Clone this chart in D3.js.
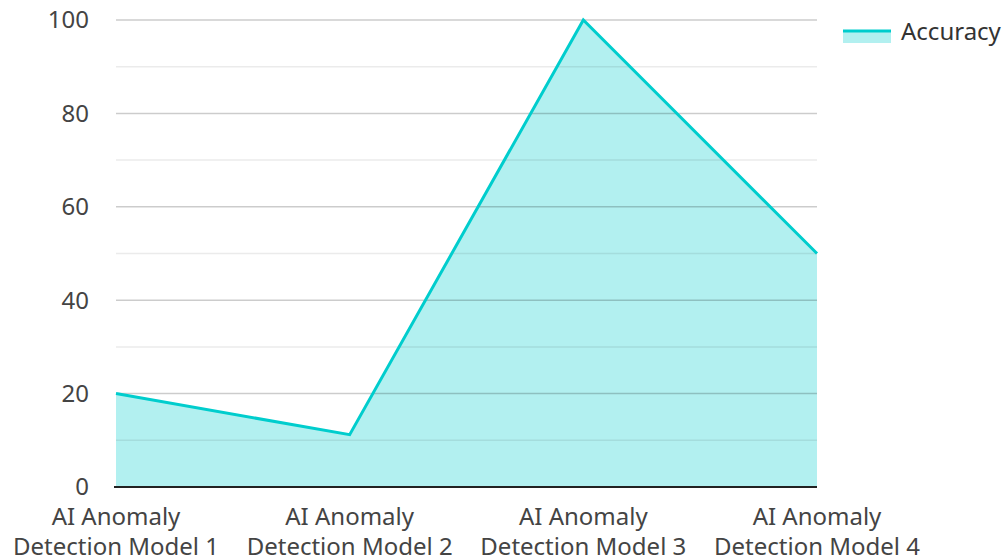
<!DOCTYPE html>
<html><head><meta charset="utf-8">
<script src="https://cdn.jsdelivr.net/npm/d3@7"></script>
<style>body{margin:0;background:#fff}svg{display:block;font-family:"Noto Sans","Open Sans",sans-serif}</style>
</head><body><svg id="c" width="1007" height="560"></svg>
<script>
const categories = ["AI Anomaly Detection Model 1","AI Anomaly Detection Model 2","AI Anomaly Detection Model 3","AI Anomaly Detection Model 4"];
const accuracy = [20, 11.2, 100, 50];
const yTicks = [0, 20, 40, 60, 80, 100];
const yMinor = [10, 30, 50, 70, 90];
const seriesName = "Accuracy";

const svg = d3.select("#c");
const L = 116, R = 817, T = 20, B = 487;
const x = d3.scalePoint().domain(categories).range([L, R]);
const y = d3.scaleLinear().domain([0, 100]).range([B, T]);
const lineCol = "#00cdcd", fillCol = "rgba(0,205,205,0.30)";
const FS = 24;

// area fill
svg.append("path").datum(accuracy)
  .attr("d", d3.area().x((d,i)=>x(categories[i])).y0(y(0)).y1(d=>y(d)))
  .attr("fill", fillCol);

// grid
svg.append("g").selectAll("line").data(yMinor).join("line")
  .attr("x1", L).attr("x2", R).attr("y1", d=>y(d)).attr("y2", d=>y(d))
  .attr("stroke", "rgba(0,0,0,0.08)").attr("stroke-width", 1.5);
svg.append("g").selectAll("line").data(yTicks.filter(d=>d>0)).join("line")
  .attr("x1", L).attr("x2", R).attr("y1", d=>y(d)).attr("y2", d=>y(d))
  .attr("stroke", "rgba(0,0,0,0.2)").attr("stroke-width", 1.5);

// y labels
svg.append("g").selectAll("text").data(yTicks).join("text")
  .attr("x", 89).attr("y", d=>y(d)).attr("dy", "0.35em")
  .attr("text-anchor", "end").attr("font-size", FS).attr("fill", "#444")
  .text(d=>d);

// baseline
svg.append("line").attr("x1", L-2).attr("x2", R).attr("y1", B).attr("y2", B)
  .attr("stroke", "#222").attr("stroke-width", 2);

// line
svg.append("path").datum(accuracy)
  .attr("d", d3.line().x((d,i)=>x(categories[i])).y(d=>y(d)))
  .attr("fill", "none").attr("stroke", lineCol).attr("stroke-width", 3);

// x labels
const xl = svg.append("g").selectAll("text").data(categories).join("text")
  .attr("text-anchor", "middle").attr("font-size", FS).attr("fill", "#444");
xl.each(function(d){
  const t = d3.select(this);
  const words = d.split(" ");
  t.append("tspan").attr("x", x(d)).attr("y", 525).text(words.slice(0,2).join(" "));
  t.append("tspan").attr("x", x(d)).attr("y", 555).text(words.slice(2).join(" "));
});

// legend
svg.append("rect").attr("x", 843).attr("y", 31).attr("width", 48).attr("height", 12).attr("fill", fillCol);
svg.append("line").attr("x1", 843).attr("x2", 891).attr("y1", 31).attr("y2", 31)
  .attr("stroke", lineCol).attr("stroke-width", 3);
svg.append("text").attr("x", 901).attr("y", 32).attr("dy", "0.35em")
  .attr("font-size", FS).attr("fill", "#333").text(seriesName);
</script></body></html>
